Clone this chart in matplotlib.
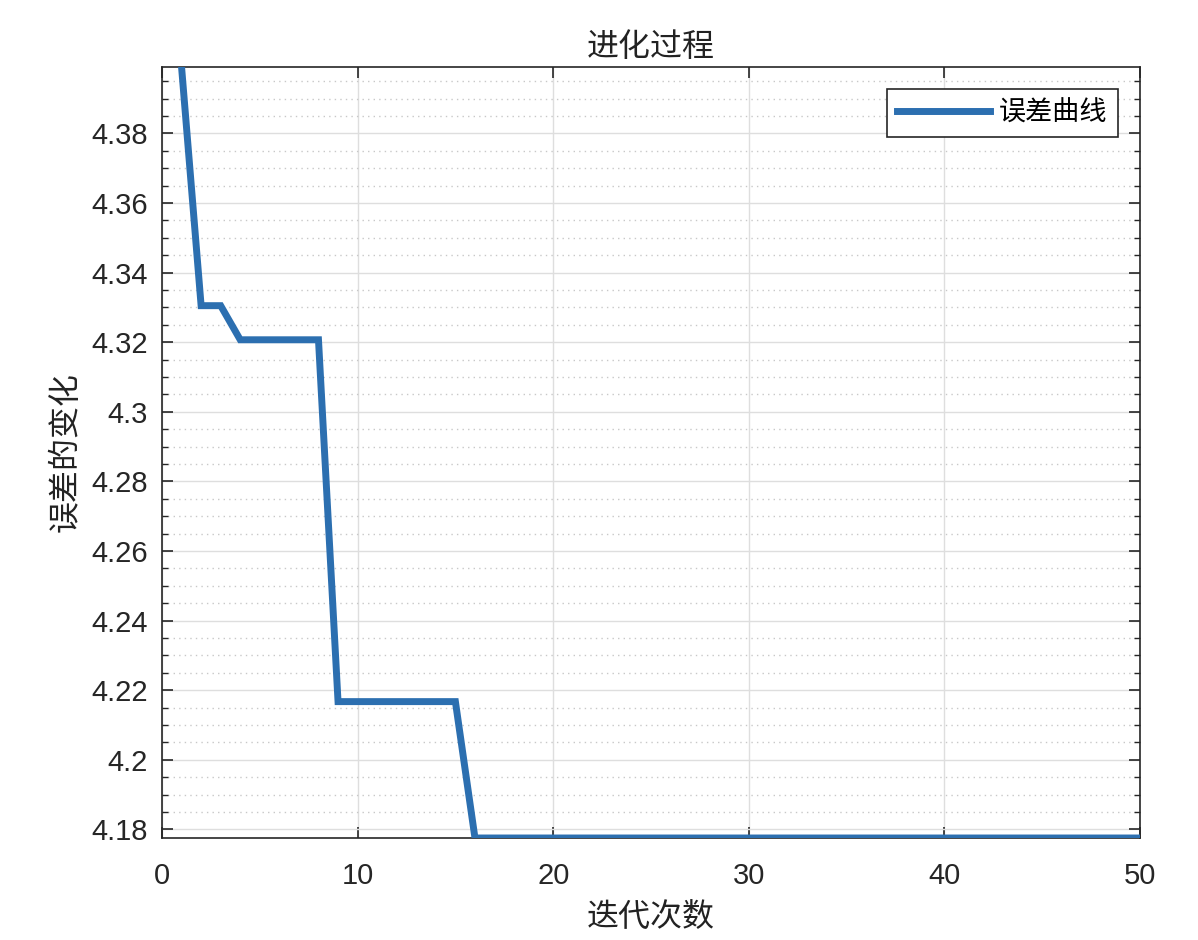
import matplotlib
matplotlib.use("Agg")
import matplotlib.pyplot as plt
from matplotlib.ticker import MultipleLocator, FuncFormatter

plt.rcParams['font.family'] = ['Liberation Sans', 'Noto Sans CJK SC', 'DejaVu Sans']
cjk = ['Noto Sans CJK SC', 'DejaVu Sans']

iterations = list(range(1, 51))
errors = [4.3991, 4.3305, 4.3305] + [4.3207] * 5 + [4.2167] * 7 + [4.1775] * 35
title = "进化过程"
xlabel = "迭代次数"
ylabel = "误差的变化"
legend_label = "误差曲线"

fig = plt.figure(figsize=(11.98, 9.4), dpi=100)
ax = fig.add_axes([162/1198, 102/940, 978/1198, 771/940])

ax.plot(iterations, errors, color='#2c6fb0', lw=5, label=legend_label,
        solid_joinstyle='miter', zorder=3)

ax.set_xlim(0, 50)
ax.set_ylim(min(errors), max(errors))
ax.xaxis.set_major_locator(MultipleLocator(10))
ax.yaxis.set_major_locator(MultipleLocator(0.02))
ax.yaxis.set_minor_locator(MultipleLocator(0.005))
ax.yaxis.set_major_formatter(FuncFormatter(lambda v, p: ('%.2f' % v).rstrip('0').rstrip('.')))

ax.grid(True, which='major', color='#dedede', lw=1.0, ls='-')
ax.grid(True, which='minor', axis='y', color='#c8c8c8', lw=1.0, ls=(0, (1, 3)))
ax.set_axisbelow(True)

ax.tick_params(which='both', direction='in', top=True, right=True, colors='#262626',
               labelsize=21)
ax.tick_params(which='major', length=8, width=1.2)
ax.tick_params(which='minor', length=4, width=1.0)
ax.tick_params(axis='x', pad=17)
ax.tick_params(axis='y', pad=10)
for s in ax.spines.values():
    s.set_color('#262626')
    s.set_linewidth(1.2)

ax.set_title(title, family=cjk, fontsize=23, color='#222222', pad=8)
ax.set_xlabel(xlabel, family=cjk, fontsize=23, color='#222222', labelpad=8)
ax.set_ylabel(ylabel, family=cjk, fontsize=23, color='#222222', labelpad=7)

leg = ax.legend(loc='upper right', prop={'family': cjk, 'size': 19.5}, fancybox=False,
                edgecolor='#262626', framealpha=1, handlelength=3.4,
                borderaxespad=0.8, handletextpad=0.35, borderpad=0.4)
leg.get_frame().set_linewidth(1.2)

fig.savefig('out.png', dpi=100, facecolor='white')
